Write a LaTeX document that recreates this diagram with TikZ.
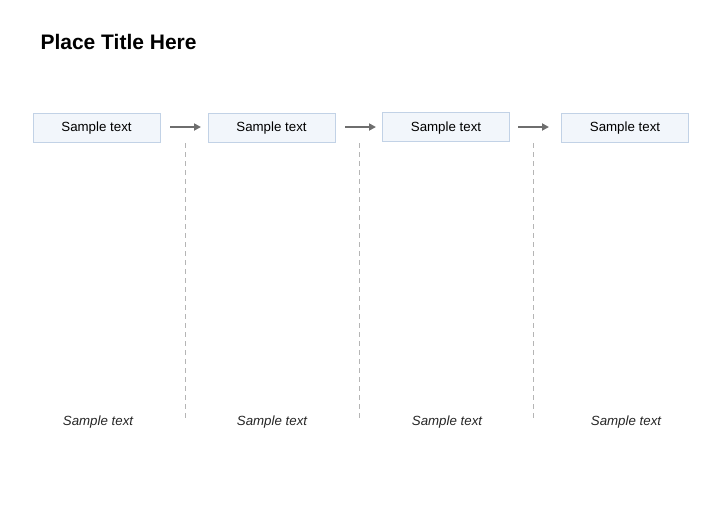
\documentclass[tikz,border=0pt]{standalone}
\usepackage{fontspec}
\setmainfont{Liberation Sans}
\usetikzlibrary{arrows.meta}
\definecolor{boxfill}{HTML}{F2F6FB}
\definecolor{boxline}{HTML}{C2D2E6}
\definecolor{arrowc}{HTML}{6E6E6E}
\definecolor{dashc}{HTML}{B5B5B5}
\begin{document}
\begin{tikzpicture}[x=1pt,y=-1pt,
  stepbox/.style={draw=boxline,line width=1pt,fill=boxfill,minimum width=127pt,minimum height=29pt,inner sep=0pt,text height=9.5pt,text depth=1pt,font=\fontsize{13.3}{15}\selectfont},
  flow/.style={draw=arrowc,line width=2pt,-{Triangle[length=7pt,width=7pt]}},
  sep/.style={draw=dashc,line width=1pt,dash pattern=on 5pt off 4pt},
  foot/.style={font=\fontsize{13.3}{15}\selectfont\itshape,text=black!85}]
\useasboundingbox (0,0) rectangle (720,504);
\node[anchor=base west,font=\fontsize{21}{25}\selectfont\bfseries] (title) at (37,49.5) {Place Title Here};
\node[stepbox] (b1) at (96.5,127.5) {Sample text};
\node[stepbox] (b2) at (271.5,127.5) {Sample text};
\node[stepbox] (b3) at (446,127) {Sample text};
\node[stepbox] (b4) at (625,127.5) {Sample text};
\coordinate (a1s) at (170,127); \coordinate (a1e) at (201,127);
\coordinate (a2s) at (345,127); \coordinate (a2e) at (376,127);
\coordinate (a3s) at (518,127); \coordinate (a3e) at (549,127);
\draw[flow] (a1s) -- (a1e);
\draw[flow] (a2s) -- (a2e);
\draw[flow] (a3s) -- (a3e);
\coordinate (d1t) at (185,143); \coordinate (d1b) at (185,421);
\coordinate (d2t) at (359,143); \coordinate (d2b) at (359,421);
\coordinate (d3t) at (533,143); \coordinate (d3b) at (533,421);
\draw[sep] (d1t) -- (d1b);
\draw[sep] (d2t) -- (d2b);
\draw[sep] (d3t) -- (d3b);
\node[foot] (f1) at (98,422.5) {Sample text};
\node[foot] (f2) at (272,422.5) {Sample text};
\node[foot] (f3) at (447,422.5) {Sample text};
\node[foot] (f4) at (626,422.5) {Sample text};
\end{tikzpicture}
\end{document}
